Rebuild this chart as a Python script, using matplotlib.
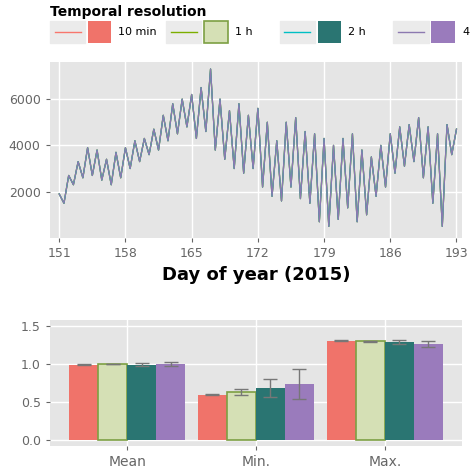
import matplotlib
matplotlib.use("Agg")
import matplotlib.pyplot as plt
import numpy as np

# time series, roughly every 12 h from day 151 to 193
days_start = 151.0
step = 0.5
load = [1900, 1500, 2700, 2300, 3300, 2600, 3900, 2700, 3800, 2500, 3400, 2300, 3700, 2600,
        3900, 3000, 4200, 3300, 4300, 3600, 4700, 3800, 5300, 4200, 5800, 4500, 6000, 4800,
        6200, 4300, 6500, 4600, 7300, 3800, 6000, 3400, 5500, 3000, 5800, 2800, 5300, 3000,
        5600, 2200, 5000, 1800, 4200, 1600, 5000, 2200, 5200, 1700, 4600, 1500, 4500, 700,
        4300, 500, 4000, 800, 4300, 1300, 4500, 700, 3800, 1000, 3500, 1800, 4000, 2200,
        4500, 2800, 4800, 3100, 4900, 3300, 5200, 2600, 4800, 1500, 4500, 500, 4900, 3600, 4700]
day_ticks = [151, 158, 165, 172, 179, 186, 193]

labels = ["10 min", "1 h", "2 h", "4"]
line_colors = ["#F8766D", "#7CAE00", "#00BFC4", "#8C79B0"]
bar_colors = ["#F0736A", "#D5E0B5", "#2A7572", "#9A7BBC"]
bar_edges = ["none", "#7DA043", "none", "none"]

groups = ["Mean", "Min.", "Max."]
bar_vals = [[0.99, 0.60, 1.31], [1.00, 0.63, 1.30], [0.99, 0.69, 1.29], [1.00, 0.74, 1.27]]
bar_errs = [[0.005, 0.005, 0.003], [0.005, 0.04, 0.01], [0.02, 0.12, 0.025], [0.025, 0.20, 0.04]]

panel_bg = "#E5E5E5"
fig = plt.figure(figsize=(4.74, 4.74), dpi=100)

def style(ax):
    ax.set_facecolor(panel_bg)
    for s in ax.spines.values():
        s.set_visible(False)
    ax.grid(True, color="white", linewidth=1.0)
    ax.set_axisbelow(True)
    ax.tick_params(colors="#666666", labelsize=9, length=3)

ax1 = fig.add_axes([0.105, 0.498, 0.87, 0.371])
style(ax1)
x = days_start + step * np.arange(len(load))
for c in line_colors:
    ax1.plot(x, load, color=c, linewidth=0.9)
ax1.set_xlim(150, 193.6)
ax1.set_ylim(0, 7600)
ax1.set_xticks(day_ticks)
ax1.set_yticks([2000, 4000, 6000])
ax1.set_xlabel("Day of year (2015)", fontsize=13, fontweight="bold", labelpad=4)

ax2 = fig.add_axes([0.105, 0.06, 0.87, 0.265])
style(ax2)
gx = np.arange(len(groups))
w = 0.225
for i in range(4):
    pos = gx + (i - 1.5) * w
    ax2.bar(pos, bar_vals[i], width=w, color=bar_colors[i],
            edgecolor=bar_edges[i], linewidth=1.2 if bar_edges[i] != "none" else 0)
    ax2.errorbar(pos, bar_vals[i], yerr=bar_errs[i], fmt="none", ecolor="#777777",
                 elinewidth=1, capsize=5)
ax2.set_xlim(-0.6, 2.6)
ax2.set_ylim(-0.07, 1.58)
ax2.set_yticks([0.0, 0.5, 1.0, 1.5])
ax2.set_xticks(gx)
ax2.set_xticklabels(groups, fontsize=10)

# legend
fig.text(0.105, 0.975, "Temporal resolution", fontsize=10, fontweight="bold", va="center")
key_x = [0.105, 0.35, 0.59, 0.83]
for i in range(4):
    kx = key_x[i]
    fig.patches.append(plt.Rectangle((kx, 0.91), 0.075, 0.046, transform=fig.transFigure,
                                     color="#EBEBEB", zorder=0))
    fig.lines.append(plt.Line2D([kx + 0.01, kx + 0.065], [0.933, 0.933], color=line_colors[i],
                                transform=fig.transFigure, linewidth=1))
    fig.patches.append(plt.Rectangle((kx + 0.08, 0.91), 0.05, 0.046, transform=fig.transFigure,
                                     facecolor=bar_colors[i], edgecolor=bar_edges[i],
                                     linewidth=1.2 if bar_edges[i] != "none" else 0))
    fig.text(kx + 0.145, 0.933, labels[i], fontsize=8, va="center")

plt.savefig("out.png", dpi=100)
